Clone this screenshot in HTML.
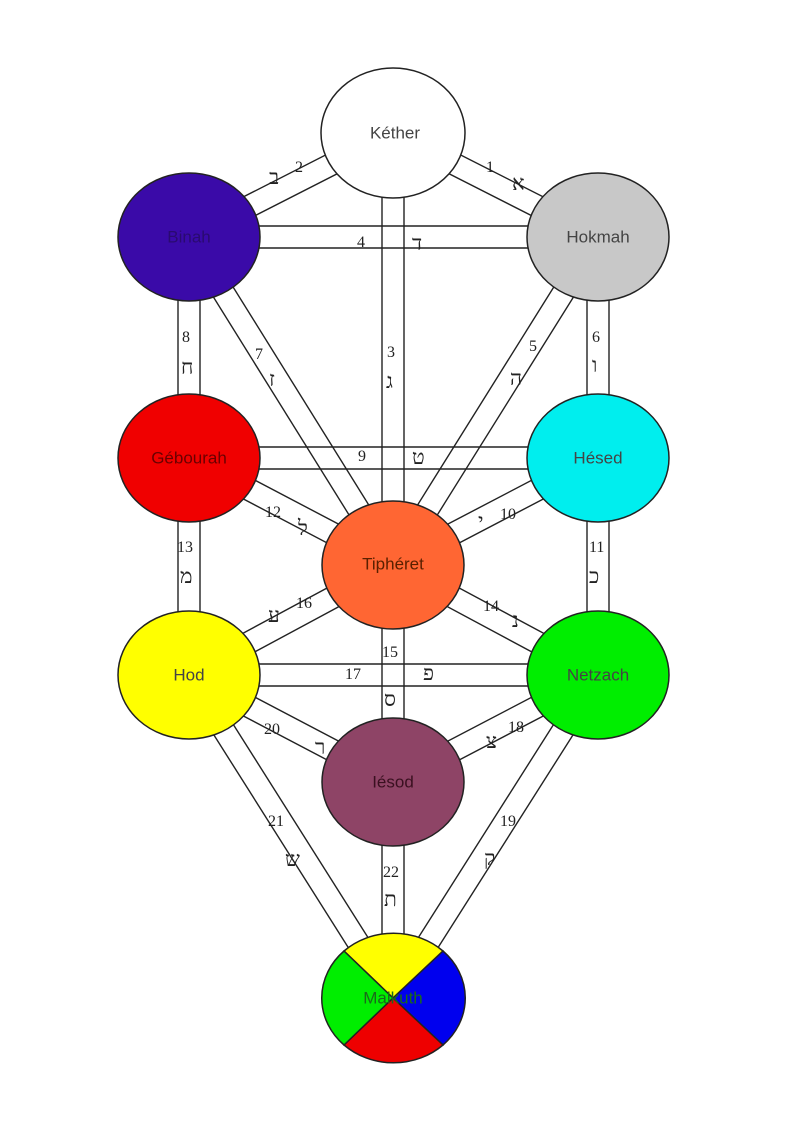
<!DOCTYPE html>
<html><head><meta charset="utf-8"><style>
html,body{margin:0;padding:0;background:#fff;}
svg{display:block}
.n{font-family:"Liberation Serif",serif;font-size:16px;fill:#222}
.h{font-family:"Liberation Serif","DejaVu Sans",serif;font-size:21px;fill:#222}
.t{font-family:"Liberation Sans","DejaVu Sans",sans-serif;font-size:17px;fill:#444;text-anchor:middle;dominant-baseline:middle}
</style></head><body>
<svg width="800" height="1131" viewBox="0 0 800 1131">
<g stroke="#222" stroke-width="1.4" fill="none">
<g transform="translate(393,133) rotate(26.9)"><line x1="0" y1="-11" x2="230" y2="-11"/><line x1="0" y1="11" x2="230" y2="11"/></g>
<g transform="translate(393,133) rotate(153)"><line x1="0" y1="-11" x2="229" y2="-11"/><line x1="0" y1="11" x2="229" y2="11"/></g>
<g transform="translate(393,133) rotate(90)"><line x1="0" y1="-11" x2="432" y2="-11"/><line x1="0" y1="11" x2="432" y2="11"/></g>
<g transform="translate(189,237)"><line x1="0" y1="-11" x2="409" y2="-11"/><line x1="0" y1="11" x2="409" y2="11"/></g>
<g transform="translate(598,237) rotate(122)"><line x1="0" y1="-11" x2="387" y2="-11"/><line x1="0" y1="11" x2="387" y2="11"/></g>
<g transform="translate(598,237) rotate(90)"><line x1="0" y1="-11" x2="221" y2="-11"/><line x1="0" y1="11" x2="221" y2="11"/></g>
<g transform="translate(189,237) rotate(58.1)"><line x1="0" y1="-11" x2="386" y2="-11"/><line x1="0" y1="11" x2="386" y2="11"/></g>
<g transform="translate(189,237) rotate(90)"><line x1="0" y1="-11" x2="221" y2="-11"/><line x1="0" y1="11" x2="221" y2="11"/></g>
<g transform="translate(189,458)"><line x1="0" y1="-11" x2="409" y2="-11"/><line x1="0" y1="11" x2="409" y2="11"/></g>
<g transform="translate(598,458) rotate(152.4)"><line x1="0" y1="-11" x2="231" y2="-11"/><line x1="0" y1="11" x2="231" y2="11"/></g>
<g transform="translate(598,458) rotate(90)"><line x1="0" y1="-11" x2="217" y2="-11"/><line x1="0" y1="11" x2="217" y2="11"/></g>
<g transform="translate(189,458) rotate(27.7)"><line x1="0" y1="-11" x2="230" y2="-11"/><line x1="0" y1="11" x2="230" y2="11"/></g>
<g transform="translate(189,458) rotate(90)"><line x1="0" y1="-11" x2="217" y2="-11"/><line x1="0" y1="11" x2="217" y2="11"/></g>
<g transform="translate(393,565) rotate(28.2)"><line x1="0" y1="-11" x2="233" y2="-11"/><line x1="0" y1="11" x2="233" y2="11"/></g>
<g transform="translate(393,565) rotate(90)"><line x1="0" y1="-11" x2="433" y2="-11"/><line x1="0" y1="11" x2="433" y2="11"/></g>
<g transform="translate(393,565) rotate(151.7)"><line x1="0" y1="-11" x2="232" y2="-11"/><line x1="0" y1="11" x2="232" y2="11"/></g>
<g transform="translate(189,675)"><line x1="0" y1="-11" x2="409" y2="-11"/><line x1="0" y1="11" x2="409" y2="11"/></g>
<g transform="translate(598,675) rotate(152.4)"><line x1="0" y1="-11" x2="231" y2="-11"/><line x1="0" y1="11" x2="231" y2="11"/></g>
<g transform="translate(598,675) rotate(122.4)"><line x1="0" y1="-11" x2="383" y2="-11"/><line x1="0" y1="11" x2="383" y2="11"/></g>
<g transform="translate(189,675) rotate(27.7)"><line x1="0" y1="-11" x2="230" y2="-11"/><line x1="0" y1="11" x2="230" y2="11"/></g>
<g transform="translate(189,675) rotate(57.7)"><line x1="0" y1="-11" x2="382" y2="-11"/><line x1="0" y1="11" x2="382" y2="11"/></g>
</g>
<g stroke="#222" stroke-width="1.5">
<ellipse cx="393" cy="133" rx="72" ry="65" fill="#fff"/>
<ellipse cx="189" cy="237" rx="71" ry="64" fill="#3a0aa8"/>
<ellipse cx="598" cy="237" rx="71" ry="64" fill="#c8c8c8"/>
<ellipse cx="189" cy="458" rx="71" ry="64" fill="#f00000"/>
<ellipse cx="598" cy="458" rx="71" ry="64" fill="#00eeee"/>
<ellipse cx="393" cy="565" rx="71" ry="64" fill="#ff6633"/>
<ellipse cx="189" cy="675" rx="71" ry="64" fill="#ffff00"/>
<ellipse cx="598" cy="675" rx="71" ry="64" fill="#00ee00"/>
<ellipse cx="393" cy="782" rx="71" ry="64" fill="#8e4466"/>
</g>
<g stroke="#222" stroke-width="1.5">
<path d="M393 998 L344 951 A72 65 0 0 1 443 951 Z" fill="#ffff00"/>
<path d="M393 998 L443 951 A72 65 0 0 1 443 1045 Z" fill="#0000ee"/>
<path d="M393 998 L443 1045 A72 65 0 0 1 344 1045 Z" fill="#ee0000"/>
<path d="M393 998 L344 1045 A72 65 0 0 1 344 951 Z" fill="#00ee00"/>
</g>
<text class="t" x="395" y="134">Kéther</text>
<text class="t" x="189" y="238" style="fill:#2a0a70">Binah</text>
<text class="t" x="598" y="238">Hokmah</text>
<text class="t" x="189" y="459" style="fill:#6a0000">Gébourah</text>
<text class="t" x="598" y="459">Hésed</text>
<text class="t" x="393" y="565" style="fill:#5a2000">Tiphéret</text>
<text class="t" x="189" y="676">Hod</text>
<text class="t" x="598" y="676">Netzach</text>
<text class="t" x="393" y="783" style="fill:#3a1020">Iésod</text>
<text class="t" x="393" y="999" style="fill:#1a6a1a">Malkuth</text>
<g class="n">
<text x="486" y="172">1</text><text x="295" y="172">2</text><text x="387" y="357">3</text><text x="357" y="247">4</text>
<text x="529" y="351">5</text><text x="592" y="342">6</text><text x="255" y="359">7</text><text x="182" y="342">8</text>
<text x="358" y="461">9</text><text x="500" y="519">10</text><text x="589" y="552">11</text><text x="265" y="517">12</text>
<text x="177" y="552">13</text><text x="483" y="611">14</text><text x="382" y="657">15</text><text x="296" y="608">16</text>
<text x="345" y="679">17</text><text x="508" y="732">18</text><text x="500" y="826">19</text><text x="264" y="734">20</text>
<text x="268" y="826">21</text><text x="383" y="877">22</text>
</g>
<g class="h">
<text x="512" y="190">א</text><text x="269" y="184">ב</text><text x="386" y="388">ג</text><text x="412" y="250">ד</text>
<text x="510" y="385">ה</text><text x="592" y="372">ו</text><text x="269" y="386">ז</text><text x="181" y="374">ח</text>
<text x="412" y="464">ט</text><text x="478" y="528">י</text><text x="589" y="583">כ</text><text x="298" y="535">ל</text>
<text x="180" y="583">מ</text><text x="512" y="627">נ</text><text x="384" y="706">ס</text><text x="268" y="622">ע</text>
<text x="423" y="680">פ</text><text x="486" y="748">צ</text><text x="484" y="865">ק</text><text x="315" y="754">ר</text>
<text x="285" y="866">ש</text><text x="384" y="906">ת</text>
</g>
</svg>
</body></html>
